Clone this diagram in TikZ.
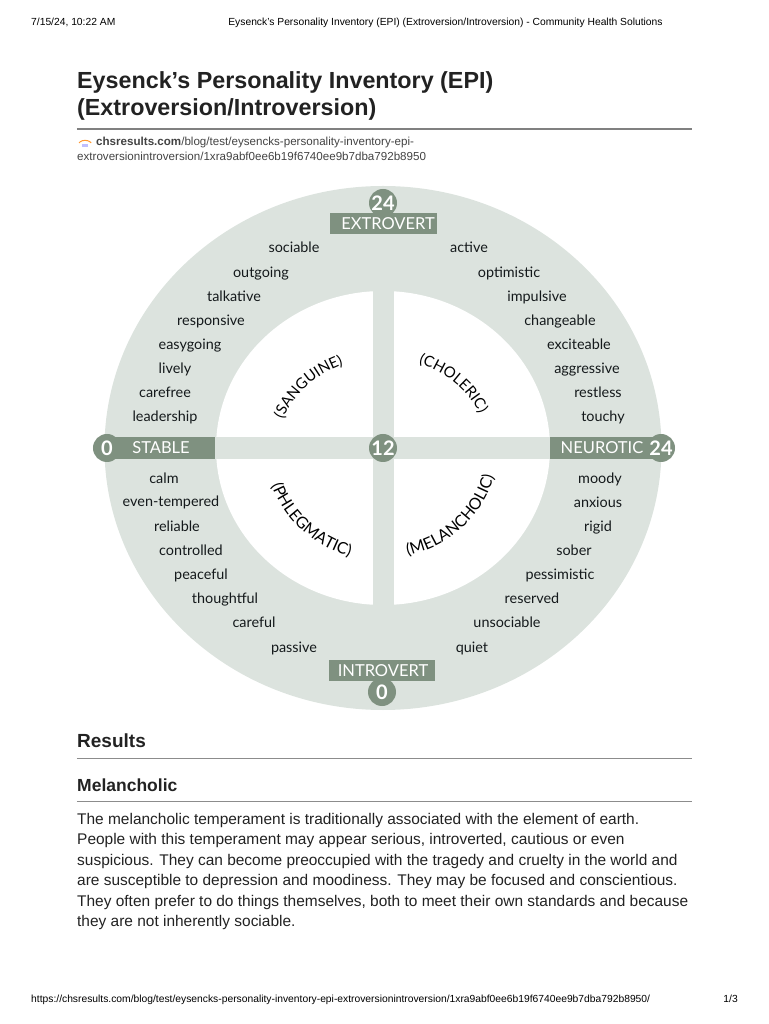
\documentclass[tikz,border=0pt]{standalone}
\usepackage{fontspec}
\setmainfont{Liberation Sans}
\newfontfamily\gillfont{Lato}
\usetikzlibrary{positioning}
\usetikzlibrary{decorations.text}
\definecolor{ringgreen}{HTML}{DCE3DE}
\definecolor{bandgreen}{HTML}{7F9180}
\definecolor{wordink}{HTML}{14191B}
\definecolor{pageink}{HTML}{222222}
\newcommand{\curvefmt}{\gillfont\fontsize{16}{16}\selectfont\color{black}}
\newcommand{\curvesmall}{\gillfont\fontsize{15}{15}\selectfont\color{black}}

\begin{document}
\begin{tikzpicture}[
    x=1pt, y=1pt,
    word/.style={font=\gillfont\fontsize{14.4}{14.4}\selectfont, text=wordink, inner sep=0pt, text height=10pt, text depth=3pt},
    band/.style={rectangle, fill=bandgreen, text=white, inner sep=0pt, minimum height=21.5pt, font=\gillfont\fontsize{16.5}{16.5}\selectfont},
    score/.style={circle, fill=bandgreen, text=white, inner sep=0pt, minimum size=28pt, font=\gillfont\bfseries\fontsize{20}{20}\selectfont},
    small/.style={font=\fontsize{10.3}{10.3}\selectfont, text=black, inner sep=0pt, text height=8pt, text depth=2pt},
    urlline/.style={font=\fontsize{11.6}{11.6}\selectfont, text=pageink!85, inner sep=0pt, anchor=west},
    rulethin/.style={draw=black!45, line width=0.8pt},
    curved/.style={decorate, decoration={text along path, text align=center, text={|\curvefmt|#1}}},
    curvedup/.style={decorate, decoration={text along path, text align=center, text={|\curvesmall|#1}}}
]
\useasboundingbox (-383,-576) rectangle (385,448);

% page head
\node [small, anchor=west] (date) at (-352,425) {7/15/24, 10:22 AM};
\node [small] (pagetitle) at (62.5,425) {Eysenck’s Personality Inventory (EPI) (Extroversion/Introversion) - Community Health Solutions};
\node [anchor=west, inner sep=0pt, align=left, text=pageink, font=\bfseries\fontsize{23.3}{27}\selectfont] (title) at (-306,352) {Eysenck’s Personality Inventory (EPI)\\(Extroversion/Introversion)};
\draw [draw=black!50, line width=1.8pt] (-306,319) -- (309,319);
\draw [draw=orange!80, line width=1pt] (-304,305) arc[start angle=160, end angle=20, x radius=6.5, y radius=4];
\fill [blue!25] (-301,300.5) rectangle (-295,303.5);
\node [urlline] (urlfirst) at (-287,305.5) {\textbf{chsresults.com}/blog/test/eysencks-personality-inventory-epi-};
\node [urlline] (urlsecond) at (-306,291.5) {extroversionintroversion/1xra9abf0ee6b19f6740ee9b7dba792b8950};

% ring and bars
\fill [ringgreen] (0,0) ellipse [x radius=278.5, y radius=262];
\fill [white] (0,0) ellipse [x radius=167, y radius=157];
\fill [ringgreen] (-10.5,-158) rectangle (10.5,158);
\fill [ringgreen] (-168,-11) rectangle (168,10.5);

% axis ends
\node [band, minimum width=108pt] (stable) at (-222,0) {STABLE};
\node [band, minimum width=111pt] (neurotic) at (222.5,0) {NEUROTIC\hspace*{7pt}};
\node [band, minimum width=107pt] (extrovert) at (0.5,224.5) {\hspace*{9pt}EXTROVERT};
\node [band, minimum width=106pt] (introvert) at (-1,-222.5) {\hspace*{2pt}INTROVERT};
\node [score] (top) at (0,245) {24};
\node [score] (bottom) at (-1,-244) {0};
\node [score] (left) at (-276,0) {0};
\node [score] (right) at (278,0) {24};
\node [score] (middle) at (0,0) {12};

% sanguine words
\node [word] (sociable) at (-89,199) {sociable};
\node [word] (outgoing) at (-122,174) {outgoing};
\node [word] (talkative) at (-149,150) {talkative};
\node [word] (responsive) at (-172,126) {responsive};
\node [word] (easygoing) at (-193,102) {easygoing};
\node [word] (lively) at (-208,78) {lively};
\node [word] (carefree) at (-218,54) {carefree};
\node [word] (leadership) at (-218,30) {leadership};

% choleric words
\node [word] (active) at (86,199) {active};
\node [word] (optimistic) at (126,174) {optimistic};
\node [word] (impulsive) at (154,150) {impulsive};
\node [word] (changeable) at (177,126) {changeable};
\node [word] (exciteable) at (196,102) {exciteable};
\node [word] (aggressive) at (204,78) {aggressive};
\node [word] (restless) at (215,54) {restless};
\node [word] (touchy) at (220,30) {touchy};

% phlegmatic words
\node [word] (calm) at (-219,-32) {calm};
\node [word] (eventempered) at (-212,-55) {even-tempered};
\node [word] (reliable) at (-206,-80) {reliable};
\node [word] (controlled) at (-192,-104) {controlled};
\node [word] (peaceful) at (-182,-128) {peaceful};
\node [word] (thoughtful) at (-158,-152) {thoughtful};
\node [word] (careful) at (-129,-176) {careful};
\node [word] (passive) at (-89,-201) {passive};

% melancholic words
\node [word] (moody) at (217,-32) {moody};
\node [word] (anxious) at (215,-56) {anxious};
\node [word] (rigid) at (215,-80) {rigid};
\node [word] (sober) at (191,-104) {sober};
\node [word] (pessimistic) at (177,-128) {pessimistic};
\node [word] (reserved) at (149,-152) {reserved};
\node [word] (unsociable) at (124,-176) {unsociable};
\node [word] (quiet) at (89,-201) {quiet};

% temperaments on arcs
\path [curvedup={(SANGUINE)}] (178:105 and 90) arc[start angle=178, end angle=98, x radius=105, y radius=90];
\path [curvedup={(CHOLERIC)}] (85:104 and 90) arc[start angle=85, end angle=5, x radius=104, y radius=90];
\path [curved={(PHLEGMATIC)}] (182:118 and 113) arc[start angle=182, end angle=270, x radius=118, y radius=113];
\path [curved={(MELANCHOLIC)}] (269:115 and 110) arc[start angle=269, end angle=359, x radius=115, y radius=110];

% text below
\node [anchor=west, inner sep=0pt, text=pageink, font=\bfseries\fontsize{19}{19}\selectfont] (results) at (-306,-293) {Results};
\draw [rulethin] (-306,-310) -- (309,-310);
\node [anchor=west, inner sep=0pt, text=pageink, font=\bfseries\fontsize{17.5}{17.5}\selectfont] (melancholic) at (-306,-337) {Melancholic};
\draw [rulethin] (-306,-353) -- (309,-353);
\node [anchor=west, inner sep=0pt, align=left, text=pageink, font=\fontsize{15.46}{20.4}\selectfont] (body) at (-306,-423.5) {The melancholic temperament is traditionally associated with the element of earth.\\People with this temperament may appear serious, introverted, cautious or even\\suspicious. They can become preoccupied with the tragedy and cruelty in the world and\\are susceptible to depression and moodiness. They may be focused and conscientious.\\They often prefer to do things themselves, both to meet their own standards and because\\they are not inherently sociable.};

% page foot
\node [small, anchor=west] (footurl) at (-352,-551.5) {https://chsresults.com/blog/test/eysencks-personality-inventory-epi-extroversionintroversion/1xra9abf0ee6b19f6740ee9b7dba792b8950/};
\node [small, anchor=east] (pageno) at (355,-551.5) {1/3};

\end{tikzpicture}
\end{document}
